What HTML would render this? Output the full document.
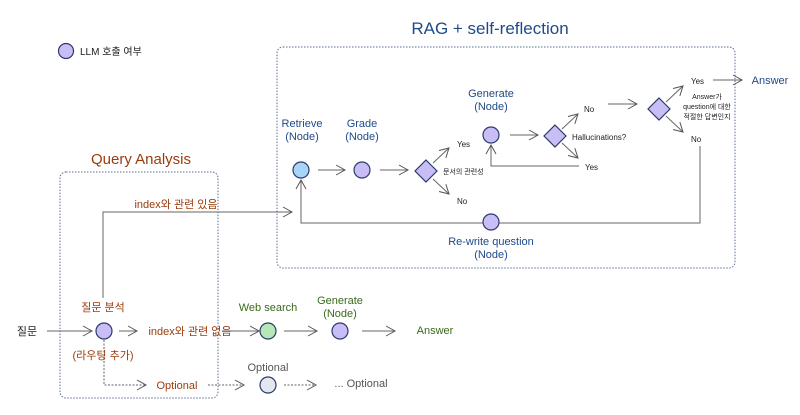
<!DOCTYPE html>
<html><head><meta charset="utf-8"><style>
html,body{margin:0;padding:0;background:#fff;}
svg{display:block;font-family:"Liberation Sans","Noto Sans CJK KR",sans-serif;}
</style></head><body>
<svg width="800" height="415" viewBox="0 0 800 415" xmlns="http://www.w3.org/2000/svg">
<defs>
<marker id="a" markerWidth="12" markerHeight="12" refX="10" refY="6" orient="auto" markerUnits="userSpaceOnUse">
<path d="M1,1 L10,6 L1,11" fill="none" stroke="#555" stroke-width="1"/></marker>
</defs>
<g font-size="10" fill="#222">
<circle cx="66" cy="51" r="7.5" fill="#c9bdf6" stroke="#2c3a6b" stroke-width="1.2"/>
<text x="80" y="55">LLM 호출 여부</text>
</g>
<text x="490" y="34" font-size="17" fill="#1e4a8a" text-anchor="middle">RAG + self-reflection</text>
<rect x="277" y="47" width="458" height="221" rx="6" fill="none" stroke="#5a6a90" stroke-dasharray="1.5,1.5" stroke-width="1"/>
<text x="141" y="164" font-size="15" fill="#993c0c" text-anchor="middle">Query Analysis</text>
<rect x="60" y="172" width="158" height="226" rx="6" fill="none" stroke="#5a6a90" stroke-dasharray="1.5,1.5" stroke-width="1"/>

<g stroke="#666" stroke-width="1" fill="none">
<line x1="318" y1="170" x2="345" y2="170" marker-end="url(#a)"/>
<line x1="380" y1="170" x2="408" y2="170" marker-end="url(#a)"/>
<line x1="433" y1="163" x2="449" y2="148" marker-end="url(#a)"/>
<line x1="433" y1="179" x2="449" y2="194" marker-end="url(#a)"/>
<line x1="510" y1="135" x2="538" y2="135" marker-end="url(#a)"/>
<line x1="562" y1="129" x2="578" y2="114" marker-end="url(#a)"/>
<line x1="562" y1="143" x2="578" y2="158" marker-end="url(#a)"/>
<polyline points="579,166 491,166 491,145" marker-end="url(#a)"/>
<line x1="608" y1="104" x2="637" y2="104" marker-end="url(#a)"/>
<line x1="666" y1="102" x2="683" y2="86" marker-end="url(#a)"/>
<line x1="666" y1="116" x2="683" y2="132" marker-end="url(#a)"/>
<line x1="713" y1="80" x2="742" y2="80" marker-end="url(#a)"/>
<polyline points="700,146 700,223 301,223 301,180" marker-end="url(#a)"/>
<polyline points="103,298 103,212 292,212" marker-end="url(#a)"/>
<line x1="47" y1="331" x2="92" y2="331" marker-end="url(#a)"/>
<line x1="119" y1="331" x2="137" y2="331" marker-end="url(#a)"/>
<line x1="222" y1="331" x2="259" y2="331" marker-end="url(#a)"/>
<line x1="284" y1="331" x2="317" y2="331" marker-end="url(#a)"/>
<line x1="362" y1="331" x2="395" y2="331" marker-end="url(#a)"/>
<g stroke-dasharray="2,1.5">
<polyline points="104,340 104,385 146,385" marker-end="url(#a)"/>
<line x1="208" y1="385" x2="244" y2="385" marker-end="url(#a)"/>
<line x1="284" y1="385" x2="316" y2="385" marker-end="url(#a)"/>
</g>
</g>

<g stroke="#2c3a6b" stroke-width="1.2">
<circle cx="301" cy="170" r="8" fill="#a8d4f6"/>
<circle cx="362" cy="170" r="8" fill="#c9bdf6"/>
<polygon points="426,160 437,171 426,182 415,171" fill="#c9bdf6"/>
<circle cx="491" cy="135" r="8" fill="#c9bdf6"/>
<polygon points="555,125 566,136 555,147 544,136" fill="#c9bdf6"/>
<polygon points="659,98 670,109 659,120 648,109" fill="#c9bdf6"/>
<circle cx="491" cy="222" r="8" fill="#c9bdf6"/>
<circle cx="104" cy="331" r="8" fill="#c9bdf6"/>
<circle cx="268" cy="331" r="8" fill="#b6e7b6"/>
<circle cx="340" cy="331" r="8" fill="#c9bdf6"/>
<circle cx="268" cy="385" r="8" fill="#e4e8ee"/>
</g>

<g font-size="11" fill="#1e4a8a" text-anchor="middle">
<text x="302" y="127">Retrieve</text><text x="302" y="140">(Node)</text>
<text x="362" y="127">Grade</text><text x="362" y="140">(Node)</text>
<text x="491" y="97">Generate</text><text x="491" y="110">(Node)</text>
<text x="491" y="245">Re-write question</text><text x="491" y="258">(Node)</text>
<text x="770" y="84">Answer</text>
</g>
<g font-size="8" fill="#222">
<text x="457" y="147">Yes</text><text x="457" y="204">No</text>
<text x="443" y="174" font-size="7">문서의 관련성</text>
<text x="584" y="112">No</text><text x="572" y="140">Hallucinations?</text><text x="585" y="170">Yes</text>
<text x="691" y="84">Yes</text><text x="691" y="142">No</text>
<g text-anchor="middle" font-size="7"><text x="707" y="99">Answer가</text><text x="707" y="109">question에 대한</text><text x="707" y="119">적절한 답변인지</text></g>
</g>
<g font-size="11" fill="#993c0c" text-anchor="middle">
<text x="176" y="208">index와 관련 있음</text>
<text x="103" y="311">질문 분석</text>
<text x="190" y="335">index와 관련 없음</text>
<text x="103" y="359">(라우팅 추가)</text>
<text x="177" y="389">Optional</text>
</g>
<text x="27" y="335" font-size="11" fill="#222" text-anchor="middle">질문</text>
<g font-size="11" fill="#3a6a1a" text-anchor="middle">
<text x="268" y="311">Web search</text>
<text x="340" y="304">Generate</text><text x="340" y="317">(Node)</text>
<text x="435" y="334">Answer</text>
</g>
<g font-size="11" fill="#555" text-anchor="middle">
<text x="268" y="371">Optional</text>
<text x="361" y="387">... Optional</text>
</g>
</svg>
</body></html>
